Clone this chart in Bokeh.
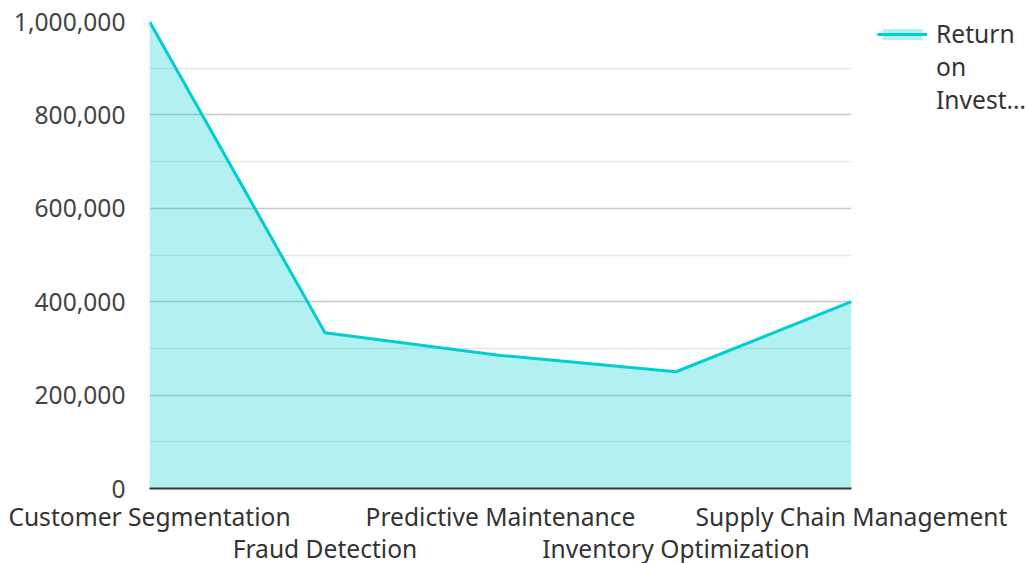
from bokeh.plotting import figure
from bokeh.models import (ColumnDataSource, Legend, LegendItem, FixedTicker,
                          NumeralTickFormatter, LinearAxis)
from bokeh.embed import file_html
from bokeh.resources import INLINE

categories = ["Customer Segmentation", "Fraud Detection", "Predictive Maintenance",
              "Inventory Optimization", "Supply Chain Management"]
roi = [1000000, 333333, 285000, 250000, 400000]
series_name_lines = ["Return", "on\nInvest…"]
y_ticks = [0, 200000, 400000, 600000, 800000, 1000000]
y_minor = [100000, 300000, 500000, 700000, 900000]

xs = list(range(len(categories)))
src = ColumnDataSource(dict(x=xs, y=roi, base=[0] * len(xs)))

FONT = "Noto Sans"
LINE = "#00CED1"
FS = "24.6px"

p = figure(frame_width=702, frame_height=467, output_backend="svg", toolbar_location=None,
           x_range=(0, len(categories) - 1), y_range=(0, 1000000),
           min_border_left=149, min_border_right=10, min_border_top=21,
           min_border_bottom=0)
p.outline_line_color = None
p.background_fill_color = "white"

area = p.varea(x="x", y1="base", y2="y", source=src, fill_color=LINE, fill_alpha=0.3)
line = p.line(x="x", y="y", source=src, line_color=LINE, line_width=3)
# invisible renderer used only to carry the wrapped remainder of the legend label
ghost = p.line(x=[0], y=[0], line_alpha=0)

# y axis
p.yaxis.ticker = FixedTicker(ticks=y_ticks, minor_ticks=y_minor)
p.yaxis.formatter = NumeralTickFormatter(format="0,0")
p.yaxis.axis_line_color = None
p.yaxis.major_tick_line_color = None
p.yaxis.minor_tick_line_color = None
p.yaxis.major_label_text_font = FONT
p.yaxis.major_label_text_font_size = FS
p.yaxis.major_label_text_color = "#444444"
p.yaxis.major_label_standoff = 18

# x axis: staggered labels on two rows (even categories on the first, odd on the second)
even = [i for i in xs if i % 2 == 0]
odd = [i for i in xs if i % 2 == 1]

def style_x(ax, ticks, standoff):
    ax.ticker = FixedTicker(ticks=ticks)
    ax.major_label_overrides = {i: categories[i] for i in ticks}
    ax.major_tick_line_color = None
    ax.minor_tick_line_color = None
    ax.major_tick_out = 0
    ax.major_tick_in = 0
    ax.minor_tick_out = 0
    ax.minor_tick_in = 0
    ax.major_label_text_font = FONT
    ax.major_label_text_font_size = FS
    ax.major_label_text_color = "#333333"
    ax.major_label_standoff = standoff

style_x(p.xaxis[0], even, 11)
p.xaxis[0].axis_line_color = "#333333"
p.xaxis[0].axis_line_width = 2

ax2 = LinearAxis()
style_x(ax2, odd, -4)
ax2.axis_line_color = None
p.add_layout(ax2, "below")

p.xgrid.grid_line_color = None
p.ygrid.grid_line_color = "#c8c8c8"
p.ygrid.grid_line_width = 1.5
p.ygrid.minor_grid_line_color = "#e6e6e6"
p.ygrid.minor_grid_line_width = 1.5

legend = Legend(items=[LegendItem(label=series_name_lines[0], renderers=[area, line]),
                       LegendItem(label=series_name_lines[1], renderers=[ghost])],
                location=(26, 372), label_text_font=FONT, label_text_font_size=FS,
                label_text_color="#333333", glyph_width=50, glyph_height=14,
                border_line_color=None, background_fill_alpha=0, padding=0,
                margin=0, spacing=0, label_standoff=9)
p.add_layout(legend, "right")

open("out.html", "w").write(file_html(p, INLINE))
